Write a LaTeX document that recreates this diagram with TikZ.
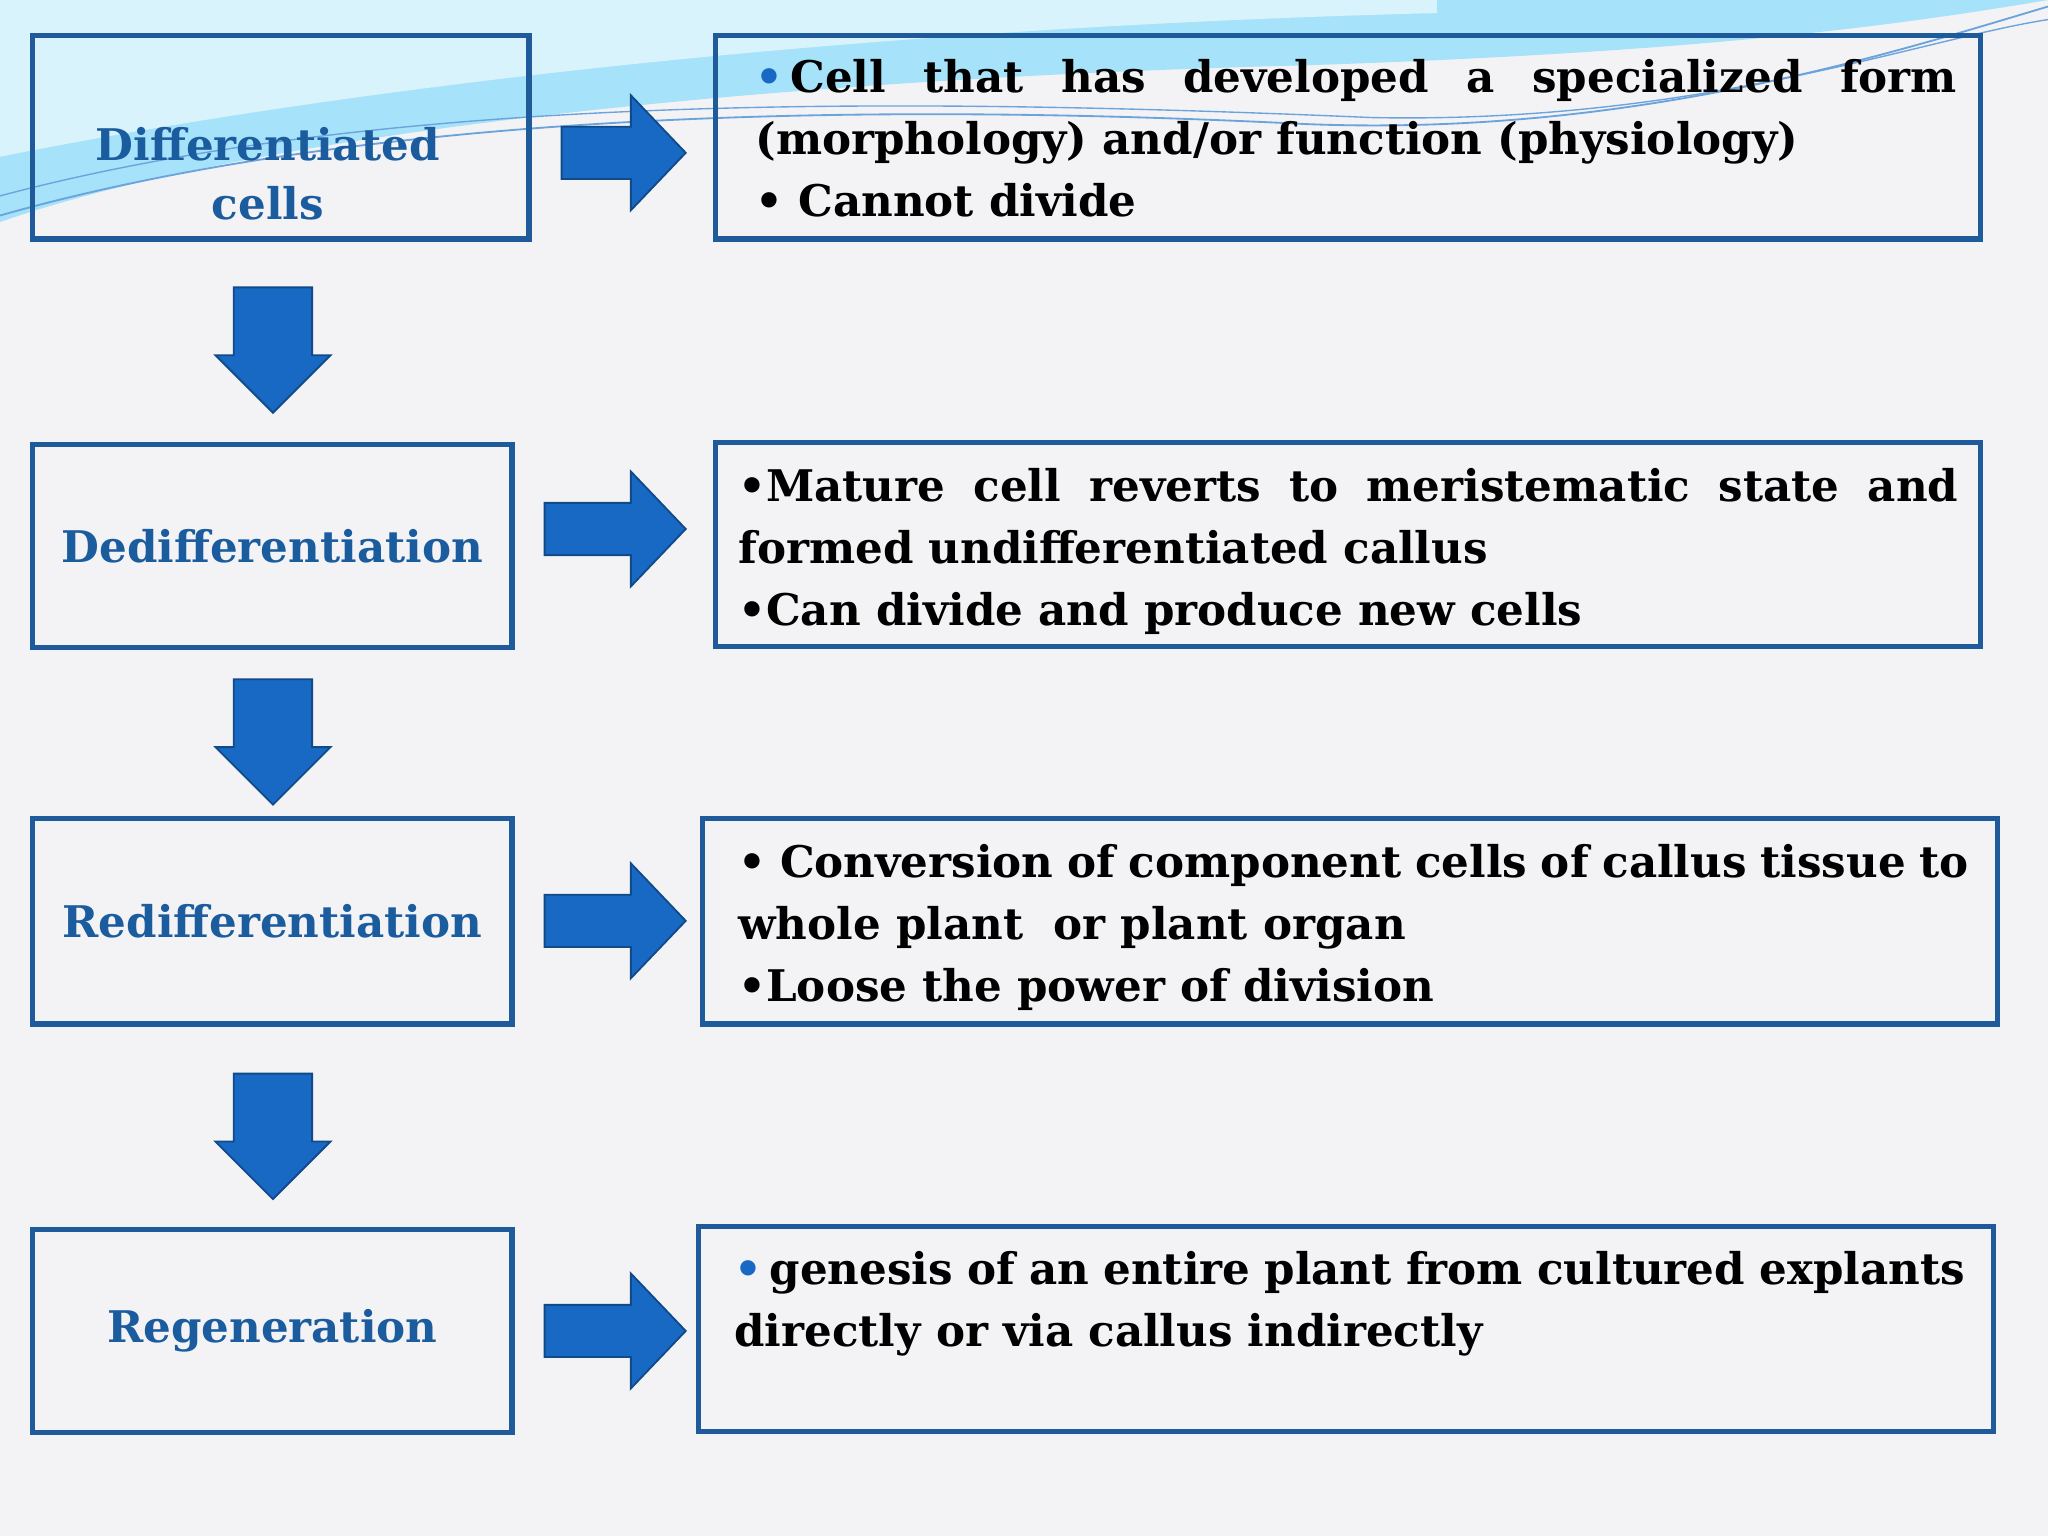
\documentclass[tikz,border=0pt]{standalone}
\usepackage{fontspec}
\setmainfont{DejaVu Serif}
\definecolor{bx}{HTML}{1F5A9A}
\definecolor{ar}{HTML}{1769C4}
\definecolor{lab}{HTML}{1B5C9E}
\definecolor{bg}{HTML}{F3F3F5}
\tikzset{
 lbox/.style={draw=bx,line width=2.2pt,text=lab,font=\bfseries\fontsize{19}{26}\selectfont,align=center},
 rbox/.style={draw=bx,line width=2.2pt},
 rtext/.style={font=\bfseries\fontsize{19}{27}\selectfont,align=justify,anchor=north west,inner sep=0pt},
 barrow/.style={fill=ar,draw=ar!70!black,line width=0.8pt,line join=miter},
}
\begin{document}
\begin{tikzpicture}[x=0.02cm,y=-0.02cm]
\useasboundingbox (0,0) rectangle (1568,1176);
\fill[bg] (0,0) rectangle (1568,1176);
% decorative swoosh
\fill[cyan!35!white] (0,0) -- (0,170) .. controls (200,100) and (600,60) .. (1000,50) .. controls (1300,40) and (1450,20) .. (1568,0) -- cycle;
\fill[cyan!15!white] (0,0) -- (0,120) .. controls (300,60) and (700,20) .. (1100,10) -- (1100,0) -- cycle;
\draw[cyan!60!blue!60,line width=0.8pt] (0,165) .. controls (300,80) and (700,80) .. (1000,95) .. controls (1250,105) and (1450,40) .. (1568,5);
\draw[cyan!60!blue!60,line width=0.6pt] (0,150) .. controls (300,70) and (700,75) .. (1050,90) .. controls (1300,95) and (1470,30) .. (1568,15);
% left boxes
\node[lbox,minimum width=380*0.02cm,minimum height=156*0.02cm] (b1) at (215,105) {};
\node[text=lab,font=\bfseries\fontsize{19}{26}\selectfont,align=center] (l1) at (205,133) {Differentiated\\cells};
\node[lbox,minimum width=367*0.02cm,minimum height=156*0.02cm] (b2) at (208.5,418) {Dedifferentiation};
\node[lbox,minimum width=367*0.02cm,minimum height=157*0.02cm] (b3) at (208.5,705.5) {Redifferentiation};
\node[lbox,minimum width=367*0.02cm,minimum height=156*0.02cm] (b4) at (208.5,1019) {Regeneration};
% right boxes
\draw[rbox] (548,27) rectangle (1516,183);
\draw[rbox] (548,339) rectangle (1516,495);
\draw[rbox] (538,627) rectangle (1529,784);
\draw[rbox] (535,939) rectangle (1526,1096);
\hyphenpenalty=10000
\node[rtext,text width=920*0.02cm] (t1) at (578,45) {{\color{ar}\textbullet}\,Cell that has developed a specialized form\linebreak (morphology) and/or function (physiology)\\ \textbullet\ Cannot divide};
\node[rtext,text width=934*0.02cm] (t2) at (565,358) {\textbullet Mature cell reverts to meristematic state and\linebreak formed undifferentiated callus\\ \textbullet Can divide and produce new cells};
\node[rtext,text width=942*0.02cm] (t3) at (565,646) {\textbullet\ Conversion of component cells of callus tissue to\linebreak whole plant\ \ or plant organ\\ \textbullet Loose the power of division};
\node[rtext,text width=942*0.02cm] (t4) at (562,958) {{\color{ar}\textbullet}\,genesis of an entire plant from cultured explants\linebreak directly or via callus indirectly};
% right arrows
\foreach \x/\y in {430/117,417/405,417/705,417/1019}{
 \draw[barrow] (\x,\y-20) -- (483,\y-20) -- (483,\y-44) -- (525,\y) -- (483,\y+44) -- (483,\y+20) -- (\x,\y+20) -- cycle;}
% down arrows
\foreach \y in {220,520,822}{
 \draw[barrow] (179,\y) -- (239,\y) -- (239,\y+52) -- (253,\y+52) -- (209,\y+96) -- (165,\y+52) -- (179,\y+52) -- cycle;}
\end{tikzpicture}
\end{document}
